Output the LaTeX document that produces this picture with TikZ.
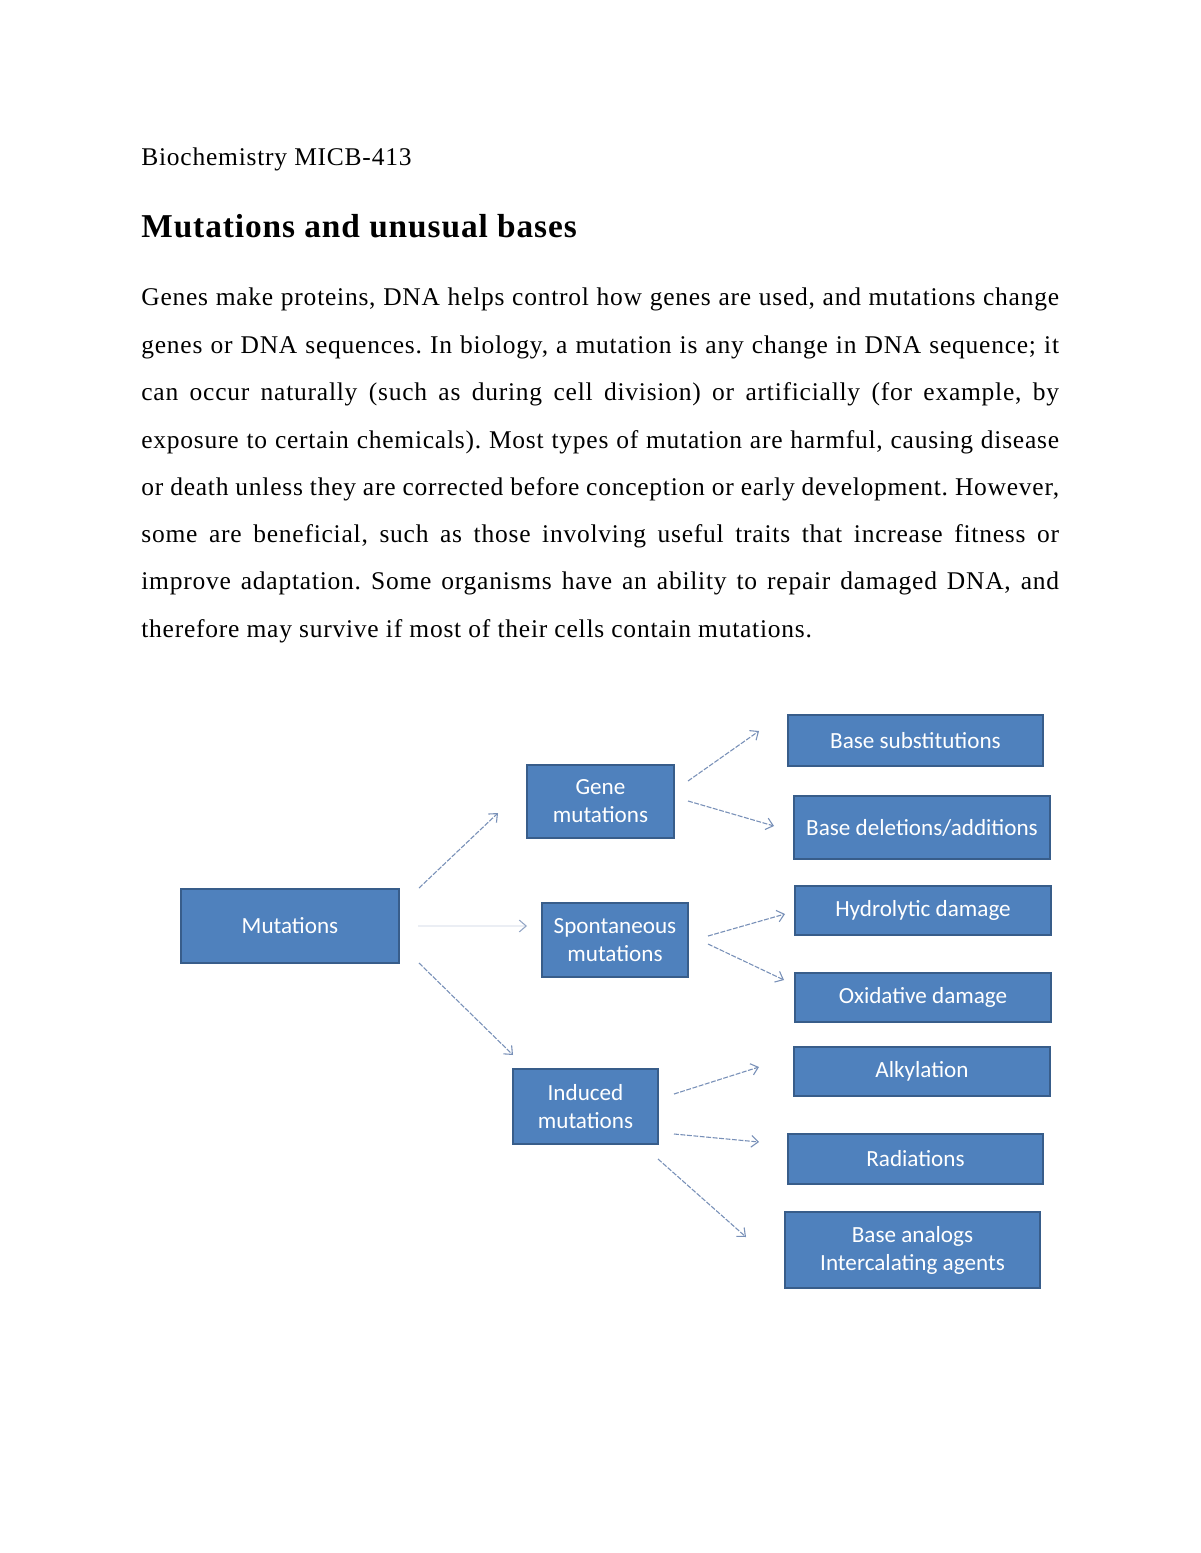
\documentclass[tikz,border=0pt]{standalone}
\usepackage{fontspec}
\setmainfont{Liberation Serif}
\newfontfamily\calib{Carlito}
\newfontfamily\bodyfont[LetterSpace=3]{Liberation Serif}
\newfontfamily\titlefont[LetterSpace=2.8]{Liberation Serif}
\usetikzlibrary{arrows.meta}
\definecolor{boxfill}{HTML}{4F81BD}
\definecolor{boxline}{HTML}{385D8A}
\definecolor{arrowc}{HTML}{7890B8}
\tikzset{
  body/.style={anchor=base west, inner sep=0pt, font=\frenchspacing\bodyfont\fontsize{13}{15}\selectfont},
  mbox/.style={draw=boxline, fill=boxfill, line width=0.9pt, text=white, align=center, inner sep=0pt,
    font=\calib\fontsize{11.8}{14.3}\selectfont},
  link/.style={draw=arrowc, line width=0.55pt, dash pattern=on 2.5pt off 0.8pt, -{Straight Barb[length=3.5pt,width=6pt]}},
  faint/.style={draw=arrowc!15, line width=0.55pt, -{Straight Barb[length=3.5pt,width=6pt,color=arrowc!80]}}
}
\newcommand{\jline}[1]{\makebox[468pt][s]{#1}}
\begin{document}
\begin{tikzpicture}[x=0.51pt,y=-0.51pt]
\useasboundingbox (0,0) rectangle (1200,1553);
\fill[white] (0,0) rectangle (1200,1553);
% header
\node[body] (course) at (141,166) {Biochemistry MICB-413};
\node[body, font=\titlefont\bfseries\fontsize{17}{19}\selectfont] (title) at (141,237) {Mutations and unusual bases};
\node[body] (l1) at (141,305) {\jline{Genes make proteins, DNA helps control how genes are used, and mutations change}};
\node[body] (l2) at (141,353) {\jline{genes or DNA sequences. In biology, a mutation is any change in DNA sequence; it}};
\node[body] (l3) at (141,400) {\jline{can occur naturally (such as during cell division) or artificially (for example, by}};
\node[body] (l4) at (141,448) {\jline{exposure to certain chemicals). Most types of mutation are harmful, causing disease}};
\node[body] (l5) at (141,495) {\jline{or death unless they are corrected before conception or early development. However,}};
\node[body] (l6) at (141,542) {\jline{some are beneficial, such as those involving useful traits that increase fitness or}};
\node[body] (l7) at (141,589) {\jline{improve adaptation. Some organisms have an ability to repair damaged DNA, and}};
\node[body] (l8) at (141,637) {therefore may survive if most of their cells contain mutations.};
% boxes
\node[mbox, minimum width=111.2pt, minimum height=37.7pt] (mut) at (290,926) {Mutations};
\node[mbox, minimum width=75pt, minimum height=37.2pt] (gene) at (600.5,801.5) {Gene\\mutations};
\node[mbox, minimum width=74.5pt, minimum height=37.7pt] (spon) at (615,940) {Spontaneous\\mutations};
\node[mbox, minimum width=74pt, minimum height=38.3pt] (ind) at (585.5,1106.5) {Induced\\mutations};
\node[mbox, minimum width=130pt, minimum height=26pt] (bsub) at (915.5,740.5) {Base substitutions};
\node[mbox, minimum width=130.6pt, minimum height=32.1pt] (bdel) at (922,827.5) {Base deletions/additions};
\node[mbox, minimum width=130.6pt, minimum height=25pt] (hyd) at (923,910.5) {Hydrolytic damage};
\node[mbox, minimum width=130.6pt, minimum height=25pt] (oxi) at (923,997.5) {Oxidative damage};
\node[mbox, minimum width=130.6pt, minimum height=25pt] (alk) at (922,1071.5) {Alkylation};
\node[mbox, minimum width=130pt, minimum height=25.5pt] (rad) at (915.5,1159) {Radiations};
\node[mbox, minimum width=130pt, minimum height=38.8pt] (ana) at (912.5,1250) {Base analogs\\Intercalating agents};
% connector end points
\coordinate (m1s) at (419,888); \coordinate (m1e) at (498,813);
\coordinate (m2s) at (418,926); \coordinate (m2e) at (527,926);
\coordinate (m3s) at (419,963); \coordinate (m3e) at (513,1055);
\coordinate (g1s) at (688,781); \coordinate (g1e) at (759,731);
\coordinate (g2s) at (688,801); \coordinate (g2e) at (774,826);
\coordinate (s1s) at (708,936); \coordinate (s1e) at (785,914);
\coordinate (s2s) at (708,944); \coordinate (s2e) at (784,980);
\coordinate (i1s) at (674,1094); \coordinate (i1e) at (759,1067);
\coordinate (i2s) at (674,1134); \coordinate (i2e) at (759,1142);
\coordinate (i3s) at (658,1159); \coordinate (i3e) at (746,1237);
% connectors
\draw[link] (m1s) -- (m1e);
\draw[faint] (m2s) -- (m2e);
\draw[link] (m3s) -- (m3e);
\draw[link] (g1s) -- (g1e);
\draw[link] (g2s) -- (g2e);
\draw[link] (s1s) -- (s1e);
\draw[link] (s2s) -- (s2e);
\draw[link] (i1s) -- (i1e);
\draw[link] (i2s) -- (i2e);
\draw[link] (i3s) -- (i3e);
\end{tikzpicture}
\end{document}
